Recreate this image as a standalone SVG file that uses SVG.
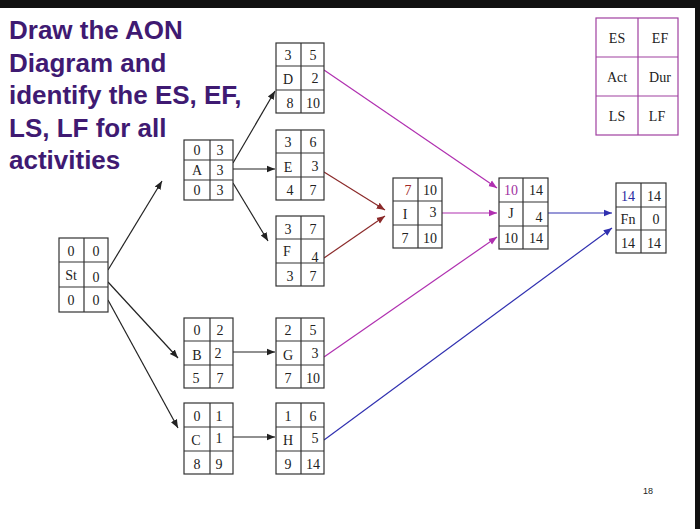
<svg xmlns="http://www.w3.org/2000/svg" width="700" height="529" viewBox="0 0 700 529">
<style>
.b{fill:#fff;stroke:#333;stroke-width:1.2}
.g{stroke:#333;stroke-width:1.2}
.t{font-family:"Liberation Serif",serif;font-size:14px;fill:#222;text-anchor:middle}
.lg{fill:#fff;stroke:#a040a0;stroke-width:1.2}
.lgl{stroke:#a040a0;stroke-width:1.2}
.h{font-family:"Liberation Sans",Arial,sans-serif;font-weight:bold;font-size:26px;fill:#3f1a72}
</style>
<defs>
<marker id="mk" viewBox="0 0 10 10" refX="10" refY="5" markerWidth="7" markerHeight="7" orient="auto"><path d="M0,1 L10,5 L0,9 z" fill="#222"/></marker>
<marker id="mp" viewBox="0 0 10 10" refX="10" refY="5" markerWidth="7" markerHeight="7" orient="auto"><path d="M0,1 L10,5 L0,9 z" fill="#b030b0"/></marker>
<marker id="mr" viewBox="0 0 10 10" refX="10" refY="5" markerWidth="7" markerHeight="7" orient="auto"><path d="M0,1 L10,5 L0,9 z" fill="#8b2a2a"/></marker>
<marker id="mb" viewBox="0 0 10 10" refX="10" refY="5" markerWidth="7" markerHeight="7" orient="auto"><path d="M0,1 L10,5 L0,9 z" fill="#3030b0"/></marker>
</defs>
<rect width="700" height="529" fill="#fff"/>
<rect width="700" height="8" fill="#111"/>
<rect x="695" width="5" height="529" fill="#111"/>
<g id="title" class="h">
<text x="9" y="39">Draw the AON</text>
<text x="9" y="72">Diagram and</text>
<text x="9" y="104">identify the ES, EF,</text>
<text x="9" y="137">LS, LF for all</text>
<text x="9" y="169">activities</text>
</g>
<g id="legend">
<rect class="lg" x="596" y="18" width="82" height="117"/>
<path class="lgl" d="M638,18V135M596,57H678M596,96H678"/>
<text class="t" x="617" y="43">ES</text><text class="t" x="660" y="43">EF</text>
<text class="t" x="617" y="82">Act</text><text class="t" x="660" y="82">Dur</text>
<text class="t" x="617" y="121">LS</text><text class="t" x="657" y="121">LF</text>
</g>
<g id="connectors" fill="none">
<g stroke="#222" stroke-width="1.2" marker-end="url(#mk)">
<path d="M108,270L162,181"/>
<path d="M108,282L178,358"/>
<path d="M108,300L178,428"/>
<path d="M233,163L275,91"/>
<path d="M233,169L275,169"/>
<path d="M233,183L268,241"/>
<path d="M233,352L275,352"/>
<path d="M233,437L275,437"/>
</g>
<g stroke="#8b2a2a" stroke-width="1.2" marker-end="url(#mr)">
<path d="M324,172L385,210"/>
<path d="M324,258L385,216"/>
</g>
<g stroke="#b030b0" stroke-width="1.2" marker-end="url(#mp)">
<path d="M324,70L497,188"/>
<path d="M442,213L497,213"/>
<path d="M324,357L497,237"/>
</g>
<g stroke="#3030b0" stroke-width="1.2" marker-end="url(#mb)">
<path d="M548,213L612,213"/>
<path d="M324,440L612,228"/>
</g>
</g>
<g id="St"><rect class="b" x="59" y="238" width="49" height="74"/><path class="g" d="M84,238V312M59,262H108M59,287H108"/>
<text class="t" x="71" y="256">0</text><text class="t" x="96" y="256">0</text><text class="t" x="71" y="280">St</text><text class="t" x="96" y="282">0</text><text class="t" x="71" y="305">0</text><text class="t" x="96" y="305">0</text></g>
<g id="A"><rect class="b" x="184" y="140" width="49" height="60"/><path class="g" d="M210,140V200M184,160H233M184,180H233"/>
<text class="t" x="197" y="155">0</text><text class="t" x="220" y="155">3</text><text class="t" x="197" y="175">A</text><text class="t" x="220" y="175">3</text><text class="t" x="197" y="195">0</text><text class="t" x="220" y="195">3</text></g>
<g id="D"><rect class="b" x="276" y="43" width="48" height="70"/><path class="g" d="M301,43V113M276,66H324M276,90H324"/>
<text class="t" x="288" y="60">3</text><text class="t" x="313" y="60">5</text><text class="t" x="288" y="84">D</text><text class="t" x="315" y="83">2</text><text class="t" x="290" y="108">8</text><text class="t" x="313" y="108">10</text></g>
<g id="E"><rect class="b" x="276" y="130" width="48" height="70"/><path class="g" d="M301,130V200M276,153H324M276,177H324"/>
<text class="t" x="288" y="147">3</text><text class="t" x="313" y="147">6</text><text class="t" x="288" y="172">E</text><text class="t" x="315" y="171">3</text><text class="t" x="290" y="195">4</text><text class="t" x="313" y="195">7</text></g>
<g id="F"><rect class="b" x="276" y="216" width="48" height="70"/><path class="g" d="M301,216V286M276,239H324M276,263H324"/>
<text class="t" x="288" y="234">3</text><text class="t" x="313" y="234">7</text><text class="t" x="287" y="256">F</text><text class="t" x="315" y="262">4</text><text class="t" x="290" y="281">3</text><text class="t" x="313" y="281">7</text></g>
<g id="B"><rect class="b" x="184" y="318" width="49" height="70"/><path class="g" d="M210,318V388M184,341H233M184,365H233"/>
<text class="t" x="197" y="335">0</text><text class="t" x="220" y="335">2</text><text class="t" x="197" y="360">B</text><text class="t" x="218" y="358">2</text><text class="t" x="196" y="383">5</text><text class="t" x="220" y="383">7</text></g>
<g id="C"><rect class="b" x="184" y="403" width="49" height="71"/><path class="g" d="M210,403V474M184,427H233M184,451H233"/>
<text class="t" x="197" y="421">0</text><text class="t" x="219" y="421">1</text><text class="t" x="196" y="445">C</text><text class="t" x="219" y="443">1</text><text class="t" x="197" y="469">8</text><text class="t" x="219" y="469">9</text></g>
<g id="G"><rect class="b" x="276" y="318" width="48" height="70"/><path class="g" d="M301,318V388M276,341H324M276,365H324"/>
<text class="t" x="288" y="335">2</text><text class="t" x="313" y="335">5</text><text class="t" x="288" y="360">G</text><text class="t" x="315" y="358">3</text><text class="t" x="288" y="383">7</text><text class="t" x="313" y="383">10</text></g>
<g id="H"><rect class="b" x="276" y="403" width="48" height="71"/><path class="g" d="M301,403V474M276,427H324M276,451H324"/>
<text class="t" x="288" y="421">1</text><text class="t" x="313" y="421">6</text><text class="t" x="288" y="445">H</text><text class="t" x="315" y="443">5</text><text class="t" x="288" y="469">9</text><text class="t" x="313" y="469">14</text></g>
<g id="I"><rect class="b" x="393" y="178" width="49" height="70"/><path class="g" d="M418,178V248M393,201H442M393,225H442"/>
<text class="t" x="408" y="195" style="fill:#a02828">7</text><text class="t" x="430" y="195">10</text><text class="t" x="405" y="219">I</text><text class="t" x="433" y="217">3</text><text class="t" x="405" y="243">7</text><text class="t" x="430" y="243">10</text></g>
<g id="J"><rect class="b" x="499" y="178" width="49" height="71"/><path class="g" d="M523,178V249M499,202H548M499,226H548"/>
<text class="t" x="511" y="195" style="fill:#a030a0">10</text><text class="t" x="536" y="195">14</text><text class="t" x="511" y="218">J</text><text class="t" x="539" y="222">4</text><text class="t" x="511" y="243">10</text><text class="t" x="536" y="243">14</text></g>
<g id="Fn"><rect class="b" x="616" y="183" width="50" height="70"/><path class="g" d="M641,183V253M616,207H666M616,230H666"/>
<text class="t" x="628" y="201" style="fill:#2a2aa0">14</text><text class="t" x="654" y="201">14</text><text class="t" x="628" y="224">Fn</text><text class="t" x="656" y="224">0</text><text class="t" x="628" y="248">14</text><text class="t" x="654" y="248">14</text></g>
<text x="648" y="494" style="font-family:'Liberation Sans',sans-serif;font-size:9px;fill:#222" text-anchor="middle">18</text>
</svg>
